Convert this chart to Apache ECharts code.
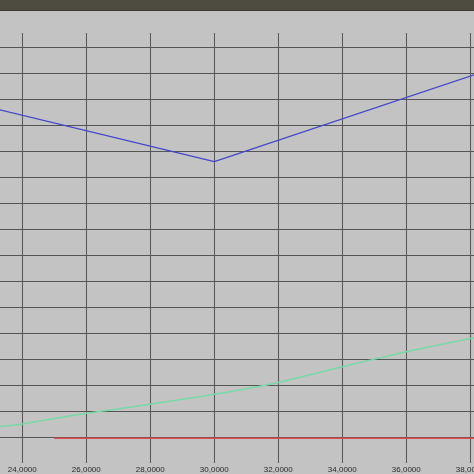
<!DOCTYPE html>
<html><head><meta charset="utf-8">
<script src="https://cdn.jsdelivr.net/npm/echarts@6/dist/echarts.min.js"></script>
<style>html,body{margin:0;padding:0;background:#c3c3c3}#c{width:474px;height:474px}</style>
</head><body><div id="c"></div>
<script>
const tickValues = [24, 26, 28, 30, 32, 34, 36, 38];
const blueX = [23.3, 30, 38.12];
const blueY = [13.58, 11.59, 14.93];
const greenX = [23.3, 24, 26, 28, 30, 32, 34, 36, 38.12];
const greenY = [1.40, 1.50, 1.91, 2.26, 2.64, 3.10, 3.70, 4.28, 4.82];
const redX = [25.0, 38.12];
const redY = [0.95, 0.95];

const pairs = (xs, ys) => xs.map((x, i) => [x, ys[i]]);
const chart = echarts.init(document.getElementById('c'));
chart.setOption({
  backgroundColor: '#c3c3c3',
  animation: false,
  graphic: [{type: 'rect', shape: {x: 0, y: 0, width: 474, height: 11}, style: {fill: '#4e4b41'}, z: 100},
            {type: 'rect', shape: {x: 0, y: 10, width: 474, height: 1}, style: {fill: '#3a3830'}, z: 100}],
  grid: [
    {left: 0, right: 0, top: 47, bottom: 11, containLabel: false, outerBoundsMode: 'none'},
    {left: 22.3, right: 3.7, top: 47, bottom: 11, containLabel: false, outerBoundsMode: 'none'}
  ],
  xAxis: [
    {gridIndex: 0, type: 'value', min: 23.303, max: 38.116, show: false, splitLine: {show: false}},
    {gridIndex: 1, type: 'value', min: 24, max: 38, interval: 2, position: 'bottom',
     axisLine: {show: false}, axisTick: {show: false},
     axisLabel: {show: true, margin: 3, color: '#2a2a2a', fontFamily: 'Liberation Sans', fontSize: 8,
       hideOverlap: false, showMinLabel: true, showMaxLabel: true,
       formatter: v => v.toFixed(4).replace('.', ',')},
     splitLine: {show: true, lineStyle: {color: '#555', width: 1}}},
    {gridIndex: 1, type: 'value', min: 24, max: 38, interval: 2, position: 'top',
     axisLine: {show: false}, axisLabel: {show: false},
     axisTick: {show: true, length: 14, inside: false, lineStyle: {color: '#555', width: 1}},
     splitLine: {show: false}}
  ],
  yAxis: [
    {gridIndex: 0, type: 'value', min: 0, max: 16, interval: 1, show: true,
     axisLine: {show: false}, axisTick: {show: false}, axisLabel: {show: false},
     splitLine: {show: true, showMinLine: false, lineStyle: {color: '#555', width: 1}}},
    {gridIndex: 1, type: 'value', min: 0, max: 16, interval: 1, show: false, splitLine: {show: false}}
  ],
  series: [
    {type: 'line', xAxisIndex: 0, yAxisIndex: 0, data: pairs(blueX, blueY), symbol: 'none',
     lineStyle: {color: '#4646cc', width: 1.2}, z: 5},
    {type: 'line', xAxisIndex: 0, yAxisIndex: 0, data: pairs(greenX, greenY), symbol: 'none', smooth: 0.3,
     lineStyle: {color: '#78d8a8', width: 1.5}, z: 5},
    {type: 'line', xAxisIndex: 0, yAxisIndex: 0, data: pairs(redX, redY), symbol: 'none',
     lineStyle: {color: '#dd4a4a', width: 1.5}, z: 5}
  ]
});
</script></body></html>
